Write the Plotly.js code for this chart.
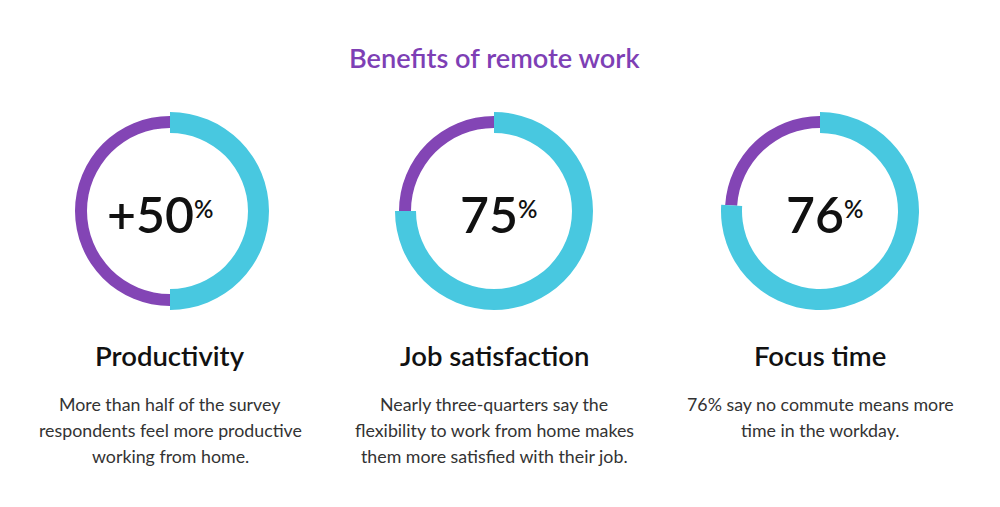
<!DOCTYPE html>
<html>
<head>
<meta charset="utf-8">
<script src="https://cdn.plot.ly/plotly-3.0.1.min.js"></script>
<style>
  html, body { margin: 0; padding: 0; background: #ffffff; }
  #chart { width: 1000px; height: 507px; }
</style>
</head>
<body>
<div id="chart"></div>
<script>
// Survey results: share of respondents per benefit
const categories = ["Productivity", "Job satisfaction", "Focus time"];
const shares = [50, 75, 76];
const centerLabels = ["+50", "75", "76"];
const descriptions = [
  ["More than half of the survey", "respondents feel more productive", "working from home."],
  ["Nearly three-quarters say the", "flexibility to work from home makes", "them more satisfied with their job."],
  ["76% say no commute means more", "time in the workday."]
];
const chartTitle = "Benefits of remote work";

const W = 1000, H = 507;
const CYAN = "#48c8e0";
const PURPLE = "#8345b5";
const CLEAR = "rgba(0,0,0,0)";
const FONT = "Lato, 'Open Sans', sans-serif";

// ring geometry in pixels
const centersX = [170, 494, 820];
const centerY = 211;
const outerBig = 99, innerBig = 78;     // thick cyan ring
const outerSmall = 95, innerSmall = 83; // thin purple ring

function domainFor(cx, cy, r) {
  return {
    x: [(cx - r) / W, (cx + r) / W],
    y: [(H - cy - r) / H, (H - cy + r) / H]
  };
}

const px = x => x / W;
const py = y => (H - y) / H;

const traces = [];
const annotations = [];

categories.forEach((cat, i) => {
  const v = shares[i];
  const rest = 100 - v;
  const common = {
    type: "pie",
    values: [v, rest],
    labels: [cat + " yes", cat + " no"],
    sort: false,
    direction: "clockwise",
    rotation: 0,
    textinfo: "none",
    hoverinfo: "skip",
    showlegend: false
  };
  // thin purple remainder
  traces.push(Object.assign({}, common, {
    hole: innerSmall / outerSmall,
    domain: domainFor(centersX[i], centerY, outerSmall),
    marker: { colors: [CLEAR, PURPLE], line: { width: 0 } }
  }));
  // thick cyan share
  traces.push(Object.assign({}, common, {
    hole: innerBig / outerBig,
    domain: domainFor(centersX[i], centerY, outerBig),
    marker: { colors: [CYAN, CLEAR], line: { width: 0 } }
  }));

  const cx = centersX[i];
  // big number in the middle of the ring, with a raised percent sign
  annotations.push({
    xref: "paper", yref: "paper", x: px(cx + 25), y: py(214),
    xanchor: "right", yanchor: "middle", showarrow: false,
    borderpad: 0,
    text: centerLabels[i],
    font: { family: FONT, size: 50, color: "#111111", weight: 600 }
  });
  annotations.push({
    xref: "paper", yref: "paper", x: px(cx + 23), y: py(208),
    xanchor: "left", yanchor: "middle", showarrow: false,
    borderpad: 0,
    text: "%",
    font: { family: FONT, size: 24, color: "#111111", weight: 600 }
  });
  // heading
  annotations.push({
    xref: "paper", yref: "paper", x: px(cx), y: py(355.5),
    xanchor: "center", yanchor: "middle", showarrow: false,
    text: cat,
    font: { family: FONT, size: 27.5, color: "#111111", weight: 600 }
  });
  // description lines
  descriptions[i].forEach((line, k) => {
    annotations.push({
      xref: "paper", yref: "paper", x: px(cx), y: py(403.5 + 26 * k),
      xanchor: "center", yanchor: "middle", showarrow: false,
      text: line,
      font: { family: FONT, size: 17.8, color: "#333333" }
    });
  });
});

// chart title
annotations.push({
  xref: "paper", yref: "paper", x: px(494), y: py(57),
  xanchor: "center", yanchor: "middle", showarrow: false,
  text: chartTitle,
  font: { family: FONT, size: 27.2, color: "#7e3fb5", weight: 600 }
});

const layout = {
  width: W, height: H,
  margin: { l: 0, r: 0, t: 0, b: 0 },
  paper_bgcolor: "#ffffff",
  plot_bgcolor: "#ffffff",
  showlegend: false,
  annotations: annotations
};

Plotly.newPlot("chart", traces, layout, { displayModeBar: false, staticPlot: true });
</script>
</body>
</html>
